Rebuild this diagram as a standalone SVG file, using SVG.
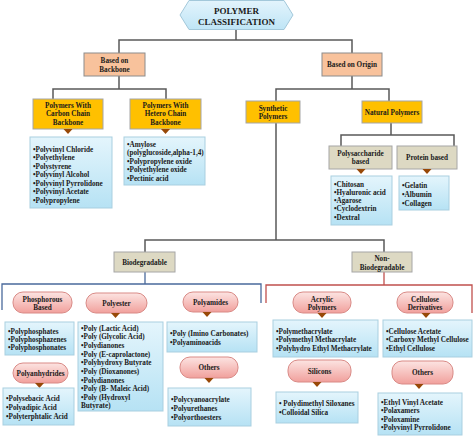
<svg xmlns="http://www.w3.org/2000/svg" width="474" height="440" viewBox="0 0 474 440">
<defs>
<linearGradient id="gTitle" x1="0" y1="0" x2="0" y2="1"><stop offset="0" stop-color="#E3F4FC"/><stop offset="1" stop-color="#BFE5F6"/></linearGradient>
<linearGradient id="gList" x1="0" y1="0" x2="0" y2="1"><stop offset="0" stop-color="#E4F5FC"/><stop offset="1" stop-color="#B6E2F4"/></linearGradient>
<linearGradient id="gPill" x1="0" y1="0" x2="0" y2="1"><stop offset="0" stop-color="#FCE4E2"/><stop offset="1" stop-color="#F1A09C"/></linearGradient>
</defs>
<style>
text{font-family:"Liberation Serif","Times New Roman",serif;font-weight:bold;font-size:7.2px;fill:#1a1a1a}
.c{text-anchor:middle}
.t{font-size:9px}
.peach{fill:#F8C29C;stroke:#8C8C8C;stroke-width:1}
.gold{fill:#FFC000;stroke:#A6A6A6;stroke-width:1}
.khaki{fill:#DDD9C3;stroke:#A6A6A6;stroke-width:1}
.list{fill:url(#gList);stroke:#A9CFE0;stroke-width:1}
.pill{fill:url(#gPill);stroke:#D98A86;stroke-width:1}
.tri{fill:#984807}
.ln{fill:none;stroke:#595959;stroke-width:1.5}
.blue{fill:none;stroke:#4A6A9C;stroke-width:1.3}
.red{fill:none;stroke:#C0504D;stroke-width:1.3}
</style>

<g id="connectors">
<path class="ln" d="M236,30 V40 M119,53 V40 H352 V53"/>
<path class="ln" d="M119,76 V89 M53,99 V89 H166 V99"/>
<path class="ln" d="M352,76 V89 M276,101 V89 H389 V101"/>
<path class="ln" d="M391,123 V135 M341,146 V135 H454 V146"/>
<path class="ln" d="M276,123 V240 M145,252 V240 H384 V252"/>
<path class="blue" d="M145,272 V284 M2,310 V284 H261 V303"/>
<path class="red" d="M384,272 V285 M266,303 V285 H472 V313"/>
</g>

<g id="title">
<polygon points="180,15 189,0.5 284,0.5 293,15 284,29.5 189,29.5" fill="url(#gTitle)" stroke="#A3C8DA" stroke-width="1"/>
<text class="c t" x="236.5" y="14">POLYMER</text>
<text class="c t" x="236.5" y="24.5">CLASSIFICATION</text>
</g>

<g id="backbone">
<rect class="peach" x="84" y="53" width="61" height="23"/>
<text class="c" x="114.5" y="63.2">Based on</text>
<text class="c" x="114.5" y="71.8">Backbone</text>
</g>
<g id="origin">
<rect class="peach" x="322" y="53" width="60" height="23"/>
<text class="c" x="352" y="67">Based on Origin</text>
</g>

<g id="carbon">
<rect class="gold" x="33" y="99" width="70" height="30"/>
<text class="c" x="68" y="107.5">Polymers With</text>
<text class="c" x="68" y="116.3">Carbon Chain</text>
<text class="c" x="68" y="125.3">Backbone</text>
<polygon class="tri" points="63.5,129 72.5,129 68,134"/>
</g>
<g id="hetero">
<rect class="gold" x="130" y="99" width="71" height="30"/>
<text class="c" x="165.5" y="107.5">Polymers With</text>
<text class="c" x="165.5" y="116.3">Hetero Chain</text>
<text class="c" x="165.5" y="125.3">Backbone</text>
<polygon class="tri" points="161,129 170,129 165.5,134"/>
</g>
<g id="carbon-list">
<rect class="list" x="30" y="137" width="82" height="71"/>
<text x="33" y="151.5">•Polyvinyl Chloride</text>
<text x="33" y="160">•Polyethylene</text>
<text x="33" y="168.5">•Polystyrene</text>
<text x="33" y="177">•Polyvinyl Alcohol</text>
<text x="33" y="185.5">•Polyvinyl Pyrrolidone</text>
<text x="33" y="194">•Polyvinyl Acetate</text>
<text x="33" y="202.5">•Polypropylene</text>
</g>
<g id="hetero-list">
<rect class="list" x="124" y="137" width="81" height="48"/>
<text x="127" y="146.5">•Amylose</text>
<text x="127" y="155">(polyglucoside,alpha-1,4)</text>
<text x="127" y="163.5">•Polypropylene oxide</text>
<text x="127" y="172">•Polyethylene oxide</text>
<text x="127" y="180.5">•Pectinic acid</text>
</g>

<g id="synthetic">
<rect class="gold" x="246" y="101" width="54" height="22"/>
<text class="c" x="273" y="110.8">Synthetic</text>
<text class="c" x="273" y="119.2">Polymers</text>
</g>
<g id="natural">
<rect class="gold" x="362" y="101" width="60" height="22"/>
<text class="c" x="392" y="115.2">Natural Polymers</text>
</g>

<g id="polysaccharide">
<rect class="khaki" x="329" y="146" width="63" height="23"/>
<text class="c" x="360.5" y="155.8">Polysaccharide</text>
<text class="c" x="360.5" y="164.2">based</text>
<polygon class="tri" points="356.5,169 365.5,169 361,174"/>
</g>
<g id="protein">
<rect class="khaki" x="397" y="146" width="60" height="23"/>
<text class="c" x="427" y="160">Protein based</text>
<polygon class="tri" points="422.5,169 431.5,169 427,174"/>
</g>
<g id="polysaccharide-list">
<rect class="list" x="331" y="176" width="61" height="49"/>
<text x="334" y="186.5">•Chitosan</text>
<text x="334" y="194.7">•Hyaluronic acid</text>
<text x="334" y="202.9">•Agarose</text>
<text x="334" y="211.3">•Cyclodextrin</text>
<text x="334" y="219.6">•Dextral</text>
</g>
<g id="protein-list">
<rect class="list" x="399" y="176" width="50" height="34"/>
<text x="402" y="187.5">•Gelatin</text>
<text x="402" y="196.5">•Albumin</text>
<text x="402" y="205.5">•Collagen</text>
</g>

<g id="biodegradable">
<rect class="khaki" x="114" y="252" width="61" height="20"/>
<text class="c" x="144.5" y="264.5">Biodegradable</text>
</g>
<g id="non-biodegradable">
<rect class="khaki" x="352" y="252" width="60" height="20"/>
<text class="c" x="382" y="260.8">Non-</text>
<text class="c" x="382" y="269.8">Biodegradable</text>
</g>

<g id="phosphorous">
<rect class="pill" x="13" y="292" width="59" height="21" rx="10"/>
<text class="c" x="42.5" y="302">Phosphorous</text>
<text class="c" x="42.5" y="310">Based</text>
</g>
<g id="phosphorous-list">
<rect class="list" x="5" y="322" width="69" height="33"/>
<text x="8" y="333.5">•Polyphosphates</text>
<text x="8" y="341.5">•Polyphosphazenes</text>
<text x="8" y="349.5">•Polyphosphonates</text>
</g>
<g id="polyester">
<rect class="pill" x="86" y="293" width="61" height="20" rx="10"/>
<text class="c" x="116.5" y="305.5">Polyester</text>
<polygon class="tri" points="111,313 120,313 115.5,318"/>
</g>
<g id="polyester-list">
<rect class="list" x="78" y="322" width="85" height="89"/>
<text x="81" y="330.8">•Poly (Lactic Acid)</text>
<text x="81" y="339.4">•Poly (Glycolic Acid)</text>
<text x="81" y="348.1">•Polydianones</text>
<text x="81" y="356.7">•Poly (E-caprolactone)</text>
<text x="81" y="365.3">•Polyhydroxy Butyrate</text>
<text x="81" y="373.9">•Poly (Dioxanones)</text>
<text x="81" y="382.6">•Polydianones</text>
<text x="81" y="391.2">•Poly (B- Maleic Acid)</text>
<text x="81" y="399.8">•Poly (Hydroxyl</text>
<text x="81" y="408.4">Butyrate)</text>
</g>
<g id="polyamides">
<rect class="pill" x="183" y="292" width="55" height="20" rx="10"/>
<text class="c" x="210.5" y="304.5">Polyamides</text>
<polygon class="tri" points="202.5,312 211.5,312 207,317"/>
</g>
<g id="polyamides-list">
<rect class="list" x="167" y="322" width="90" height="30"/>
<text x="170" y="335.5">•Poly (Imino Carbonates)</text>
<text x="170" y="344.5">•Polyaminoacids</text>
</g>
<g id="polyanhydrides">
<rect class="pill" x="13" y="363" width="55" height="20" rx="10"/>
<text class="c" x="40.5" y="375.5">Polyanhydrides</text>
<polygon class="tri" points="35,383 44,383 39.5,388"/>
</g>
<g id="polyanhydrides-list">
<rect class="list" x="3" y="388" width="71" height="37"/>
<text x="6" y="400.5">•Polysebacic Acid</text>
<text x="6" y="409.5">•Polyadipic Acid</text>
<text x="6" y="418.5">•Polyterphtalic Acid</text>
</g>
<g id="others-bio">
<rect class="pill" x="180" y="357" width="58" height="21" rx="10"/>
<text class="c" x="209" y="370">Others</text>
<polygon class="tri" points="204.5,378 213.5,378 209,383"/>
</g>
<g id="others-bio-list">
<rect class="list" x="168" y="388" width="83" height="38"/>
<text x="171" y="401.5">•Polycyanoacrylate</text>
<text x="171" y="410.5">•Polyurethanes</text>
<text x="171" y="419.5">•Polyorthoesters</text>
</g>

<g id="acrylic">
<rect class="pill" x="293" y="292" width="58" height="21" rx="10"/>
<text class="c" x="322" y="302">Acrylic</text>
<text class="c" x="322" y="310">Polymers</text>
<polygon class="tri" points="317.5,313 326.5,313 322,318"/>
</g>
<g id="acrylic-list">
<rect class="list" x="273" y="320" width="105" height="37"/>
<text x="276" y="333.5">•Polymethacrylate</text>
<text x="276" y="342">•Polymethyl Methacrylate</text>
<text x="276" y="350.5">•Polyhydro Ethyl Methacrylate</text>
</g>
<g id="cellulose">
<rect class="pill" x="397" y="292" width="56" height="21" rx="10"/>
<text class="c" x="425" y="302">Cellulose</text>
<text class="c" x="425" y="310">Derivatives</text>
<polygon class="tri" points="421.5,313 430.5,313 426,318"/>
</g>
<g id="cellulose-list">
<rect class="list" x="383" y="320" width="89" height="37"/>
<text x="386" y="333.5">•Cellulose Acetate</text>
<text x="386" y="342">•Carboxy Methyl Cellulose</text>
<text x="386" y="350.5">•Ethyl Cellulose</text>
</g>
<g id="silicons">
<rect class="pill" x="288" y="360" width="63" height="22" rx="10"/>
<text class="c" x="319.5" y="373.5">Silicons</text>
<polygon class="tri" points="312.5,382 321.5,382 317,387"/>
</g>
<g id="silicons-list">
<rect class="list" x="276" y="392" width="82" height="31"/>
<text x="279" y="405.5">• Polydimethyl Siloxanes</text>
<text x="279" y="414.5">•Colloidal Silica</text>
</g>
<g id="others-nonbio">
<rect class="pill" x="392" y="361" width="61" height="23" rx="10"/>
<text class="c" x="422.5" y="375">Others</text>
<polygon class="tri" points="414.5,384 423.5,384 419,389"/>
</g>
<g id="others-nonbio-list">
<rect class="list" x="378" y="393" width="84" height="42"/>
<text x="381" y="404.5">•Ethyl Vinyl Acetate</text>
<text x="381" y="413">•Polaxamers</text>
<text x="381" y="421.5">•Poloxamine</text>
<text x="381" y="430">•Polyvinyl Pyrrolidone</text>
</g>
</svg>
